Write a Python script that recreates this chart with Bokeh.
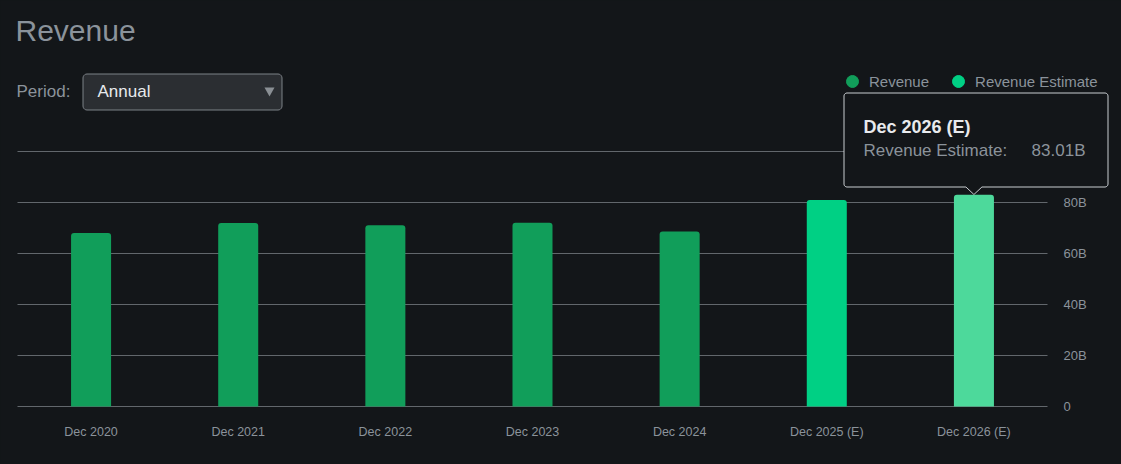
import math
from bokeh.plotting import figure
from bokeh.models import (ColumnDataSource, Range1d, FixedTicker, Label,
                          PolyAnnotation, Legend, LegendItem)
from bokeh.embed import file_html
from bokeh.resources import INLINE

# ---------------- data ----------------
categories = ["Dec 2020", "Dec 2021", "Dec 2022", "Dec 2023", "Dec 2024",
              "Dec 2025 (E)", "Dec 2026 (E)"]
revenue = [68.0, 72.0, 71.1, 72.1, 68.6]          # billions, reported
revenue_estimate = [81.0, 83.01]                  # billions, estimates
y_ticks = [0, 20, 40, 60, 80, 100]
y_tick_labels = ["0", "20B", "40B", "60B", "80B", "100B"]
highlighted = "Dec 2026 (E)"
period = "Annual"

# ---------------- style ----------------
BG = "#131619"
REV = "#119e5a"
EST = "#00d084"
EST_HI = "#4dd99b"
GRID = "#62676c"
TXT = "#8b939b"
FONT = "Liberation Sans"

idx = list(range(len(categories)))
n_act = len(revenue)

src_rev = ColumnDataSource(dict(x=idx[:n_act], val=revenue))
src_est = ColumnDataSource(dict(
    x=idx[n_act:], val=revenue_estimate,
    color=[EST_HI if categories[i] == highlighted else EST for i in idx[n_act:]]))

# plot area geometry in canvas pixels (frame spans whole canvas, axes are fixed inside)
W, H = 1121, 464
PL, PR, PB = 17, 1047, 406          # plot area left/right/baseline
PX_PER_B = 2.55                     # pixels per billion
n = len(categories)
cw = (PR - PL) / n                  # pixels per category
x0 = -0.5 - PL / cw
x1 = x0 + W / cw
y0 = -(H - PB) / PX_PER_B
y1 = PB / PX_PER_B


def dx(px):
    return x0 + px / cw


def dy(py):
    return (PB - py) / PX_PER_B


def rounded_box(l, t, r, b, rad, notch=None):
    pts = []

    def arc(cx, cy, a0, a1):
        for k in range(6):
            a = math.radians(a0 + (a1 - a0) * k / 5)
            pts.append((cx + rad * math.cos(a), cy + rad * math.sin(a)))

    arc(l + rad, t + rad, 180, 270)
    arc(r - rad, t + rad, 270, 360)
    arc(r - rad, b - rad, 0, 90)
    if notch is not None:
        pts.extend([(notch + 8, b), (notch, b + 7.5), (notch - 8, b)])
    arc(l + rad, b - rad, 90, 180)
    return [dx(x) for x, _ in pts], [dy(y) for _, y in pts]


p = figure(width=W, height=H, x_range=Range1d(x0, x1), y_range=Range1d(y0, y1),
           output_backend="svg", toolbar_location=None, y_axis_location="right",
           min_border=0, min_border_left=0, min_border_right=0, min_border_top=0,
           min_border_bottom=0, background_fill_color=BG, border_fill_color=BG)
p.outline_line_color = None
p.styles = {"background-color": BG}
p.extra_x_ranges = {"px": Range1d(0, W)}
p.extra_y_ranges = {"px": Range1d(H, 0)}

# grid lines across the plot area
p.xgrid.visible = False
p.ygrid.visible = False
p.segment(x0=[-0.5] * len(y_ticks), x1=[n - 0.5] * len(y_ticks), y0=y_ticks, y1=y_ticks,
          line_color=GRID, line_width=1)

p.vbar(x="x", top="val", width=0.272, source=src_rev, fill_color=REV,
       line_color=None, border_radius=(3, 3, 0, 0))
p.vbar(x="x", top="val", width=0.272, source=src_est, fill_color="color",
       line_color=None, border_radius=(3, 3, 0, 0))

# axes
p.xaxis.ticker = FixedTicker(ticks=idx)
p.xaxis.major_label_overrides = dict(zip(idx, categories))
p.xaxis.fixed_location = 0
p.yaxis.ticker = FixedTicker(ticks=y_ticks)
p.yaxis.major_label_overrides = dict(zip(y_ticks, y_tick_labels))
p.yaxis.fixed_location = n - 0.5
for ax in (p.xaxis[0], p.yaxis[0]):
    ax.axis_line_color = None
    ax.major_tick_line_color = None
    ax.minor_tick_line_color = None
    ax.major_tick_out = 0
    ax.major_tick_in = 0
    ax.major_label_text_font = FONT
    ax.major_label_text_color = TXT
p.yaxis.major_label_text_font_size = "13px"
p.yaxis.major_label_standoff = 16
p.xaxis.major_label_text_font_size = "12.5px"
p.xaxis.major_label_standoff = 18

# legend (circles); markers of size 0 so only the legend shows them
r_leg1 = p.scatter(x="x", y="val", source=src_rev, marker="circle", size=0,
                   fill_color=REV, line_color=REV)
r_leg2 = p.scatter(x="x", y="val", source=src_est, marker="circle", size=0,
                   fill_color=EST, line_color=EST)
legend = Legend(items=[LegendItem(label="Revenue", renderers=[r_leg1]),
                       LegendItem(label="Revenue Estimate", renderers=[r_leg2])],
                orientation="horizontal", location=(837, H - 96),
                glyph_width=30, glyph_height=30, label_standoff=2, spacing=14,
                padding=0, margin=0, background_fill_alpha=0, border_line_alpha=0,
                label_text_font=FONT, label_text_font_size="15px",
                label_text_color=TXT)
p.add_layout(legend)

PX = dict(x_range_name="px", y_range_name="px")

# title and period selector
p.add_layout(Label(x=15, y=30, text="Revenue", text_font=FONT, text_font_size="30px",
                   text_color=TXT, text_baseline="middle", **PX))
p.add_layout(Label(x=16, y=91, text="Period:", text_font=FONT, text_font_size="17px",
                   text_color=TXT, text_baseline="middle", **PX))
dd_xs, dd_ys = rounded_box(82.5, 73.5, 281.5, 109.5, 4)
p.add_layout(PolyAnnotation(xs=dd_xs, ys=dd_ys, fill_color="#2b2e32", fill_alpha=1,
                            line_color="#7d8287", line_alpha=1, line_width=1))
p.add_layout(Label(x=97, y=91, text=period, text_font=FONT, text_font_size="17px",
                   text_color="#e8eaed", text_baseline="middle", **PX))
p.add_layout(PolyAnnotation(xs=[dx(264), dx(274), dx(269)], ys=[dy(87), dy(87), dy(96)],
                            fill_color="#8a8f94", fill_alpha=1, line_color=None))

# static hover tooltip for the highlighted bar (box with a pointer notch)
tt_xs, tt_ys = rounded_box(843.5, 92.5, 1107.5, 186.5, 3,
                           notch=PL + cw * (idx[categories.index(highlighted)] + 0.5))
p.add_layout(PolyAnnotation(xs=tt_xs, ys=tt_ys, fill_color=BG, fill_alpha=1,
                            line_color="#c9cdd1", line_alpha=1, line_width=1,
                            level="overlay"))
p.add_layout(Label(x=863, y=126, text=highlighted, text_font=FONT, text_font_size="18px",
                   text_font_style="bold", text_color="#e8eaed",
                   text_baseline="middle", level="overlay", **PX))
p.add_layout(Label(x=863, y=150, text="Revenue Estimate:", text_font=FONT,
                   text_font_size="17px", text_color=TXT, text_baseline="middle",
                   level="overlay", **PX))
p.add_layout(Label(x=1085, y=150, text=f"{revenue_estimate[-1]:.2f}B", text_font=FONT,
                   text_font_size="17px", text_color=TXT, text_baseline="middle",
                   text_align="right", level="overlay", **PX))

html = file_html(p, INLINE)
html = html.replace("</head>",
                    "<style>html, body { background-color: #131619; margin: 0; }</style></head>", 1)
open("out.html", "w").write(html)
